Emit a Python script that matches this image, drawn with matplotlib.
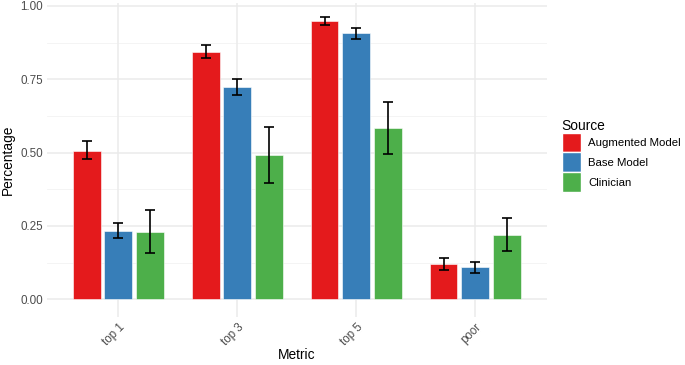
import matplotlib.pyplot as plt
import matplotlib.patches as mpatches
import numpy as np

plt.rcParams['font.family'] = ['Liberation Sans', 'DejaVu Sans']

# data
metrics = ['top 1', 'top 3', 'top 5', 'poor']
sources = ['Augmented Model', 'Base Model', 'Clinician']
colors = ['#E41A1C', '#377EB8', '#4DAF4A']

augmented = [0.507, 0.844, 0.949, 0.120]
augmented_lo = [0.477, 0.823, 0.936, 0.100]
augmented_hi = [0.540, 0.867, 0.963, 0.141]

base = [0.234, 0.724, 0.907, 0.109]
base_lo = [0.208, 0.695, 0.888, 0.089]
base_hi = [0.261, 0.752, 0.925, 0.127]

clinician = [0.229, 0.491, 0.585, 0.219]
clinician_lo = [0.157, 0.397, 0.495, 0.164]
clinician_hi = [0.304, 0.587, 0.674, 0.276]

means = [augmented, base, clinician]
lows = [augmented_lo, base_lo, clinician_lo]
highs = [augmented_hi, base_hi, clinician_hi]

fig = plt.figure(figsize=(6.85, 3.65), dpi=100)
ax = fig.add_axes([0.0686, 0.1318, 0.7295, 0.8598])

x = np.arange(1, len(metrics) + 1)
dodge = 0.8 / 3
bar_w = 0.7 / 3

# grid first so bars sit on top
for v in [0.125, 0.375, 0.625, 0.875]:
    ax.axhline(v, color='#F3F3F3', lw=0.6, zorder=0)
for v in [0, 0.25, 0.5, 0.75, 1.0]:
    ax.axhline(v, color='#EBEBEB', lw=1.1, zorder=0)
for xi in x:
    ax.axvline(xi, color='#EBEBEB', lw=1.1, zorder=0)

for i in range(3):
    xs = x + (i - 1) * dodge
    m = np.array(means[i])
    lo = np.array(lows[i])
    hi = np.array(highs[i])
    ax.bar(xs, m, width=bar_w, color=colors[i], edgecolor='white',
           linewidth=0.4, zorder=2)
    ax.errorbar(xs, m, yerr=[m - lo, hi - m], fmt='none', ecolor='black',
                elinewidth=1.2, capsize=3.4, capthick=1.2, zorder=3)

ax.set_xlim(0.4, 4.6)
ax.set_ylim(-0.06, 1.01)
ax.set_yticks([0, 0.25, 0.5, 0.75, 1.0])
ax.set_yticklabels(['0.00', '0.25', '0.50', '0.75', '1.00'])
ax.set_xticks(x)
ax.set_xticklabels(metrics, rotation=45, ha='right', va='top',
                   rotation_mode='anchor')
ax.tick_params(length=0, labelsize=8.4, colors='#4D4D4D', pad=3)
for s in ax.spines.values():
    s.set_visible(False)

ax.set_xlabel('Metric', fontsize=9.9, labelpad=0)
ax.set_ylabel('Percentage', fontsize=9.9, labelpad=4)

handles = [mpatches.Patch(facecolor=c, edgecolor='white', linewidth=1.0)
           for c in colors]
leg = fig.legend(handles, sources, loc='upper left',
                 bbox_to_anchor=(0.820, 0.675), frameon=False,
                 fontsize=8.2, title='Source', title_fontsize=9.9,
                 handlelength=1.7, handleheight=2.3, labelspacing=0.0,
                 handletextpad=0.6, borderaxespad=0, borderpad=0)
leg._legend_box.align = 'left'

fig.savefig('out.png', dpi=100)
